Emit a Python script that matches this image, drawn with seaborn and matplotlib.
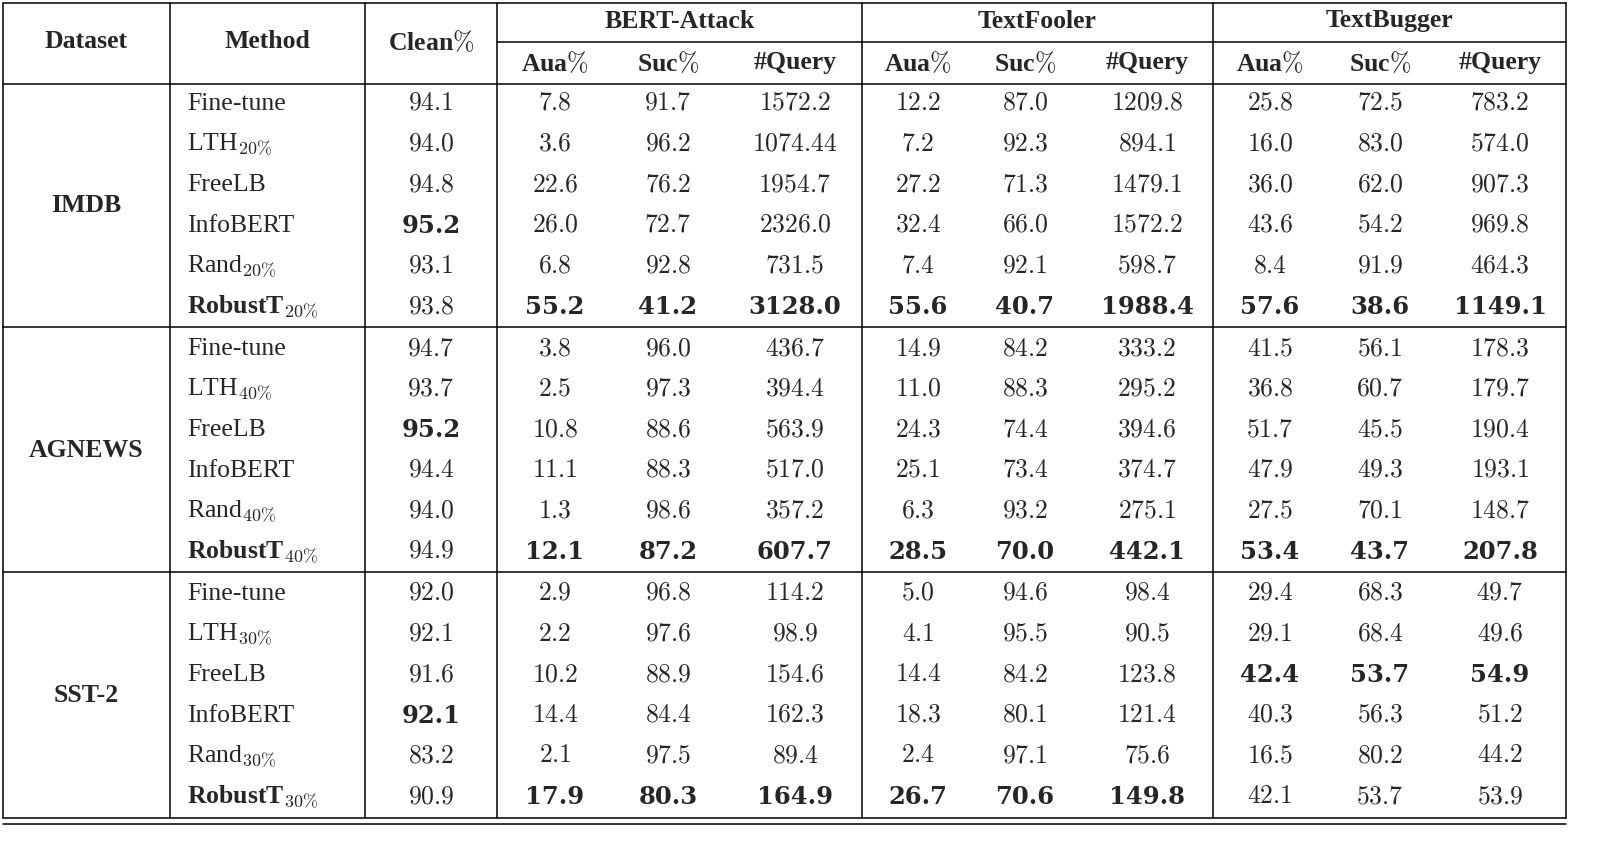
import matplotlib.pyplot as plt
import seaborn as sns

sns.set_theme(style="white")
plt.rcParams['font.family'] = ['Liberation Serif', 'DejaVu Serif']
plt.rcParams['mathtext.fontset'] = 'cm'

datasets = ['IMDB', 'AGNEWS', 'SST-2']
sparsity = ['20', '40', '30']
methods = ['Fine-tune', 'LTH', 'FreeLB', 'InfoBERT', 'Rand', 'RobustT']
attacks = ['BERT-Attack', 'TextFooler', 'TextBugger']
sub_cols = ['Aua%', 'Suc%', '#Query']

clean = [
    [94.1, 94.0, 94.8, 95.2, 93.1, 93.8],
    [94.7, 93.7, 95.2, 94.4, 94.0, 94.9],
    [92.0, 92.1, 91.6, 92.1, 83.2, 90.9],
]
clean_best = [3, 2, 3]

# rows: Aua, Suc, Query for BERT-Attack, TextFooler, TextBugger
imdb = [
    ['7.8', '91.7', '1572.2', '12.2', '87.0', '1209.8', '25.8', '72.5', '783.2'],
    ['3.6', '96.2', '1074.44', '7.2', '92.3', '894.1', '16.0', '83.0', '574.0'],
    ['22.6', '76.2', '1954.7', '27.2', '71.3', '1479.1', '36.0', '62.0', '907.3'],
    ['26.0', '72.7', '2326.0', '32.4', '66.0', '1572.2', '43.6', '54.2', '969.8'],
    ['6.8', '92.8', '731.5', '7.4', '92.1', '598.7', '8.4', '91.9', '464.3'],
    ['55.2', '41.2', '3128.0', '55.6', '40.7', '1988.4', '57.6', '38.6', '1149.1'],
]
agnews = [
    ['3.8', '96.0', '436.7', '14.9', '84.2', '333.2', '41.5', '56.1', '178.3'],
    ['2.5', '97.3', '394.4', '11.0', '88.3', '295.2', '36.8', '60.7', '179.7'],
    ['10.8', '88.6', '563.9', '24.3', '74.4', '394.6', '51.7', '45.5', '190.4'],
    ['11.1', '88.3', '517.0', '25.1', '73.4', '374.7', '47.9', '49.3', '193.1'],
    ['1.3', '98.6', '357.2', '6.3', '93.2', '275.1', '27.5', '70.1', '148.7'],
    ['12.1', '87.2', '607.7', '28.5', '70.0', '442.1', '53.4', '43.7', '207.8'],
]
sst2 = [
    ['2.9', '96.8', '114.2', '5.0', '94.6', '98.4', '29.4', '68.3', '49.7'],
    ['2.2', '97.6', '98.9', '4.1', '95.5', '90.5', '29.1', '68.4', '49.6'],
    ['10.2', '88.9', '154.6', '14.4', '84.2', '123.8', '42.4', '53.7', '54.9'],
    ['14.4', '84.4', '162.3', '18.3', '80.1', '121.4', '40.3', '56.3', '51.2'],
    ['2.1', '97.5', '89.4', '2.4', '97.1', '75.6', '16.5', '80.2', '44.2'],
    ['17.9', '80.3', '164.9', '26.7', '70.6', '149.8', '42.1', '53.7', '53.9'],
]
tables = [imdb, agnews, sst2]
# (dataset, row) -> columns in bold
bold_cells = {(0, 5): range(9), (1, 5): range(9), (2, 5): range(6), (2, 2): range(6, 9)}

fig = plt.figure(figsize=(16.06, 8.46), dpi=100)
ax = fig.add_axes([0, 0, 1, 1])
ax.set_xlim(0, 1606)
ax.set_ylim(846, 0)
ax.axis('off')

fs = 18.5
vx = [3, 170, 365, 497, 862, 1213, 1566]
col_x = [555, 668, 795, 918, 1025, 1147, 1270, 1380, 1500]
lw = 1.1


def num(v, bold=False):
    if bold:
        return dict(s=v, fontsize=fs - 1, fontweight='bold', family='DejaVu Serif')
    return dict(s=r'$\mathrm{' + v + '}$', fontsize=fs)


# rules
for y, x0 in [(3, vx[0]), (42, vx[3]), (84, vx[0]), (327, vx[0]),
              (572, vx[0]), (818, vx[0]), (824, vx[0])]:
    ax.plot([x0, vx[-1]], [y, y], color='black', lw=lw)
for x in vx:
    ax.plot([x, x], [3, 818], color='black', lw=lw)

# header
hy = 63
ax.text(86, 42, 'Dataset', ha='center', va='center', fontsize=fs, fontweight='bold')
ax.text(267, 42, 'Method', ha='center', va='center', fontsize=fs, fontweight='bold')
ax.text(431, 42, r'Clean$\%$', ha='center', va='center', fontsize=fs, fontweight='bold')
for i, a in enumerate(attacks):
    ax.text((vx[3 + i] + vx[4 + i]) / 2, 21, a, ha='center', va='center', fontsize=fs, fontweight='bold')
    for j, s in enumerate(sub_cols):
        lab = s.replace('%', r'$\%$')
        ax.text(col_x[3 * i + j], hy, lab, ha='center', va='center', fontsize=fs, fontweight='bold')

row_h = 40.6
for d, tab in enumerate(tables):
    y0 = 104 + d * 245
    ax.text(86, y0 + 2.5 * row_h, datasets[d], ha='center', va='center', fontsize=fs, fontweight='bold')
    for r in range(6):
        y = y0 + r * row_h
        name = methods[r]
        if name in ('LTH', 'Rand', 'RobustT'):
            name = name + r'$_{' + sparsity[d] + r'\%}$'
        ax.text(187, y, name, ha='left', va='center', fontsize=fs,
                fontweight='bold' if r == 5 else 'normal')
        ax.text(431, y, ha='center', va='center',
                **num(f'{clean[d][r]:.1f}', r == clean_best[d]))
        bold = bold_cells.get((d, r), [])
        for k, v in enumerate(tab[r]):
            ax.text(col_x[k], y, ha='center', va='center', **num(v, k in bold))

fig.savefig('out.png', dpi=100, facecolor='white')
